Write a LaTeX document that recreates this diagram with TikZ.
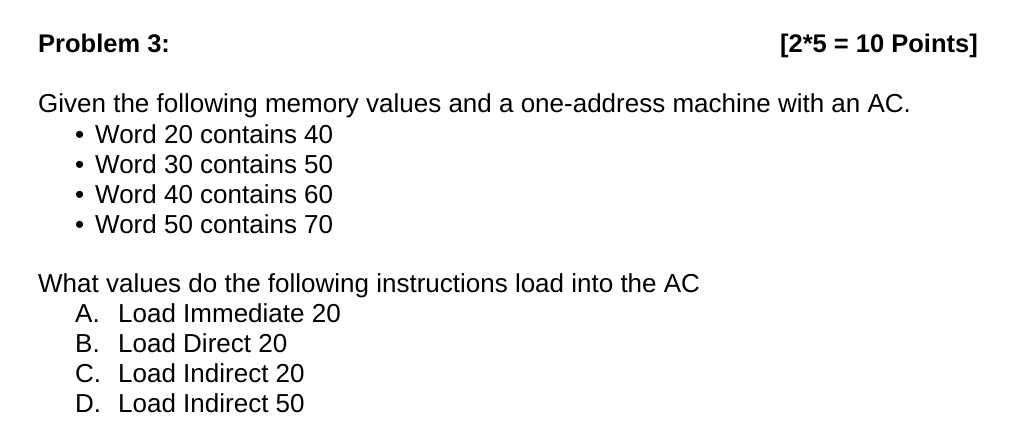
\documentclass[tikz,border=0pt]{standalone}
\usepackage{fontspec}
\setmainfont{Liberation Sans}
\begin{document}
\begin{tikzpicture}[x=1pt,y=1pt,txt/.style={anchor=base west,inner sep=0pt,font=\fontsize{26}{28}\selectfont},bold/.style={txt,font=\fontsize{25.5}{28}\selectfont\bfseries}]
\useasboundingbox (0,0) rectangle (1018,-428);
\node[bold] (p) at (38,-53) {Problem 3:};
\node[bold,anchor=base east] (pts) at (978,-53) {[2*5 = 10 Points]};
\node[txt] (g) at (38,-113) {Given the following memory values and a one-address machine with an AC.};
\foreach \t [count=\i] in {Word 20 contains 40,Word 30 contains 50,Word 40 contains 60,Word 50 contains 70}{
  \node[txt] (b\i) at (75,-113-30*\i) {•};
  \node[txt] (w\i) at (95,-113-30*\i) {\t};
}
\node[txt] (q) at (38,-292) {What values do the following instructions load into the AC};
\foreach \l/\t [count=\i] in {A./Load Immediate 20,B./Load Direct 20,C./Load Indirect 20,D./Load Indirect 50}{
  \node[txt] (l\i) at (75,-292-30*\i) {\l};
  \node[txt] (i\i) at (118,-292-30*\i) {\t};
}
\end{tikzpicture}
\end{document}
